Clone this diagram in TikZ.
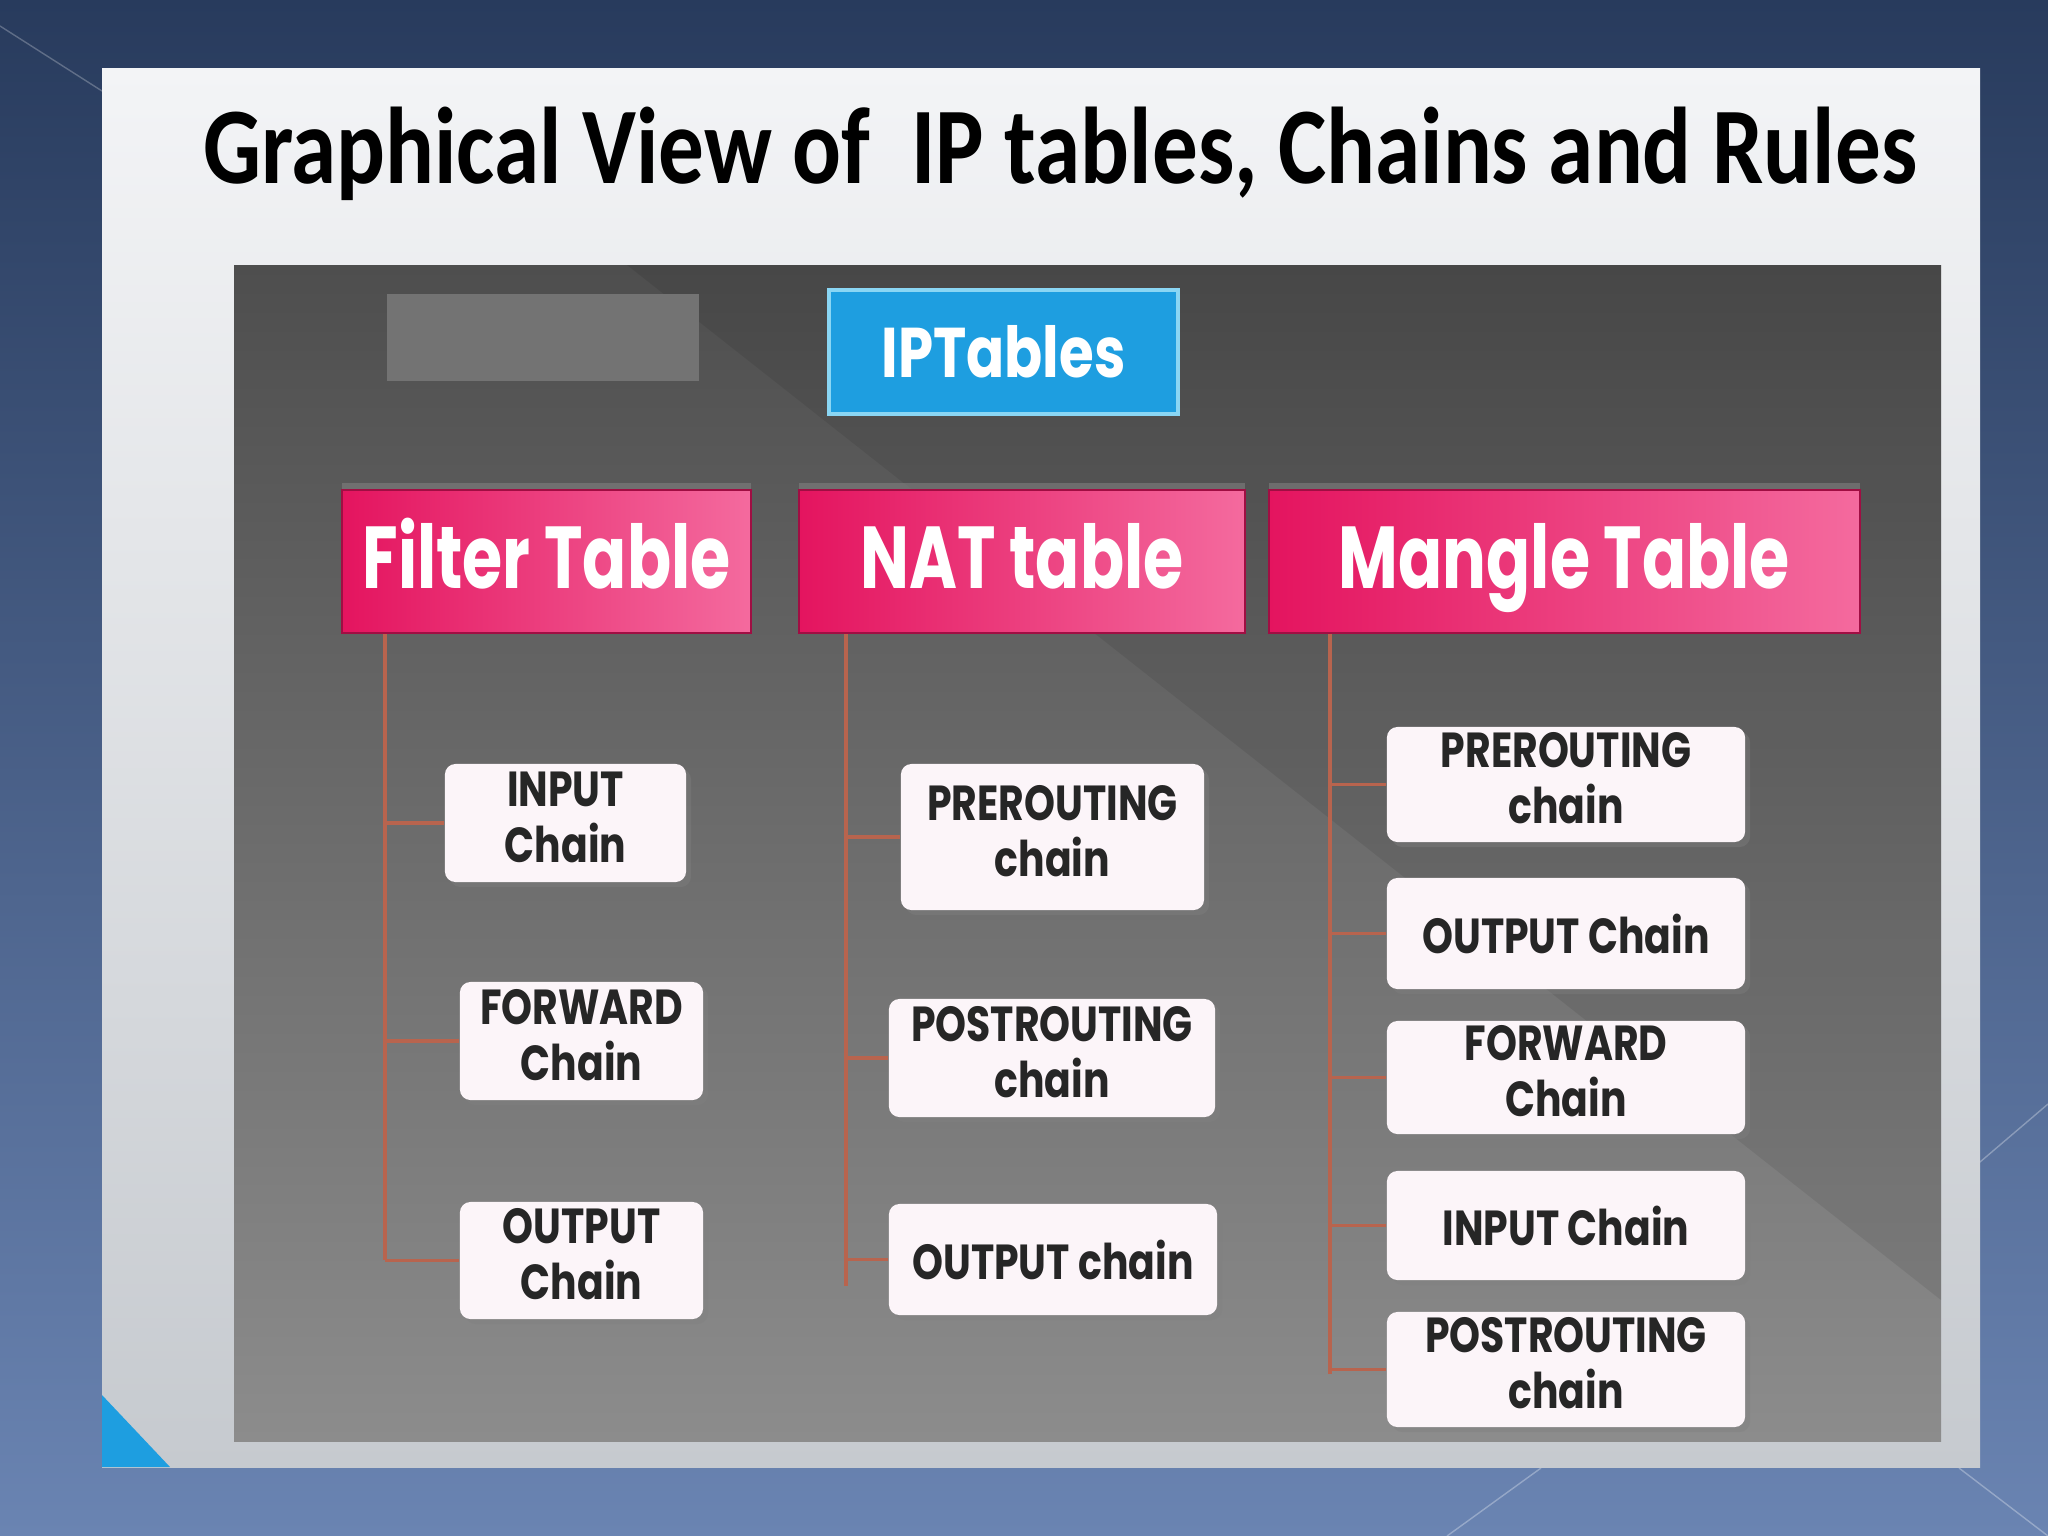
\documentclass[tikz,border=0pt]{standalone}
\usepackage{fontspec}
\usepackage{graphicx}
\setmainfont{Carlito}
\newfontfamily\chainfont{Poppins}
\usetikzlibrary{shadows}

\definecolor{bgtop}{HTML}{283B5D}
\definecolor{bgbottom}{HTML}{6A84B2}
\definecolor{slidetop}{HTML}{F3F4F6}
\definecolor{slidebottom}{HTML}{C6CACF}
\definecolor{paneltop}{HTML}{4E4E4E}
\definecolor{panelbottom}{HTML}{8C8C8C}
\definecolor{ipblue}{HTML}{1E9EE0}
\definecolor{ipedge}{HTML}{8AD6F4}
\definecolor{pinkdark}{HTML}{E4145F}
\definecolor{pinklight}{HTML}{F46A9E}
\definecolor{chainfill}{HTML}{FCF5F9}
\definecolor{stemcol}{HTML}{B8644E}

% squeeze text sideways, as on the slide
\newcommand{\squash}[2][0.74]{\scalebox{#1}[1]{#2}}
\newcommand{\twolines}[2]{\squash[0.8]{\begin{tabular}{@{}c@{}}#1\\#2\end{tabular}}}

\tikzset{
    iptbox/.style={fill=ipblue, draw=ipedge, line width=1.2pt, minimum width=3.49cm, minimum height=1.24cm,
        inner sep=0pt, text=white, font=\chainfont\bfseries\fontsize{20}{22}\selectfont},
    tablehead/.style={left color=pinkdark, right color=pinklight, draw=pinkdark!70!black, line width=0.6pt,
        minimum height=1.43cm, inner sep=0pt, text=white, text height=17pt, text depth=1.7pt,
        drop shadow={opacity=0.6, shadow xshift=0mm, shadow yshift=0.7mm},
        font=\chainfont\bfseries\fontsize{25}{27}\selectfont},
    chainbox/.style={fill=chainfill, rounded corners=3pt, inner sep=0pt, text=black!85,
        drop shadow={opacity=0.4, shadow xshift=0.5mm, shadow yshift=-0.5mm},
        font=\chainfont\bfseries\fontsize{14}{16}\selectfont},
    stem/.style={draw=stemcol, line width=1pt},
}

\begin{document}
\begin{tikzpicture}[x=0.01cm, y=-0.01cm]
    \useasboundingbox (0,0) rectangle (2048,1536);

    % slide background
    \shade[top color=bgtop, bottom color=bgbottom] (0,0) rectangle (2048,1536);
    \draw[white, opacity=0.25] (0,26) -- (102,91);
    \draw[white, opacity=0.3] (1541,1468) -- (1447,1536);
    \draw[white, opacity=0.3] (1959,1468) -- (2048,1536);
    \draw[white, opacity=0.3] (1980,1162) -- (2048,1104);
    \shade[top color=slidetop, bottom color=slidebottom] (102,68) rectangle (1980,1467);
    \fill[ipblue] (102,1395) -- (170,1467) -- (102,1467) -- cycle;

    \node[anchor=base] (title) at (1060,183) {\squash[0.836]{\fontsize{31}{33}\selectfont\bfseries Graphical View of~ IP tables, Chains and Rules}};

    % grey panel
    \shade[top color=paneltop, bottom color=panelbottom] (234,265) rectangle (1941,1441);
    \fill[black, opacity=0.08] (627,265) -- (1941,265) -- (1941,1300) -- cycle;
    \fill[black!55] (387,294) rectangle (699,381);

    \node[iptbox] (ipt) at (1003.5,352) {\squash[0.8]{IPTables}};

    \node[tablehead, minimum width=4.09cm] (filter) at (546.5,561.5) {\squash{Filter Table}};
    \node[tablehead, minimum width=4.46cm] (nat) at (1022,561.5) {\squash{NAT table}};
    \node[tablehead, minimum width=5.91cm] (mangle) at (1564.5,561.5) {\squash{Mangle Table}};

    % filter chains
    \node[chainbox, minimum width=2.41cm, minimum height=1.18cm] (finput) at (565.5,823) {\twolines{INPUT}{Chain}};
    \node[chainbox, minimum width=2.43cm, minimum height=1.18cm] (fforward) at (581.5,1041) {\twolines{FORWARD}{Chain}};
    \node[chainbox, minimum width=2.43cm, minimum height=1.17cm] (foutput) at (581.5,1260.5) {\twolines{OUTPUT}{Chain}};

    % nat chains
    \node[chainbox, minimum width=3.03cm, minimum height=1.46cm] (npre) at (1052.5,837) {\twolines{PREROUTING}{chain}};
    \node[chainbox, minimum width=3.26cm, minimum height=1.18cm] (npost) at (1052,1058) {\twolines{POSTROUTING}{chain}};
    \node[chainbox, minimum width=3.28cm, minimum height=1.11cm] (noutput) at (1053,1259.5) {\squash[0.8]{OUTPUT chain}};

    % mangle chains
    \node[chainbox, minimum width=3.58cm, minimum height=1.15cm] (mpre) at (1566,784.5) {\twolines{PREROUTING}{chain}};
    \node[chainbox, minimum width=3.58cm, minimum height=1.11cm] (moutput) at (1566,933.5) {\squash[0.8]{OUTPUT Chain}};
    \node[chainbox, minimum width=3.58cm, minimum height=1.13cm] (mforward) at (1566,1077.5) {\twolines{FORWARD}{Chain}};
    \node[chainbox, minimum width=3.58cm, minimum height=1.09cm] (minput) at (1566,1225.5) {\squash[0.8]{INPUT Chain}};
    \node[chainbox, minimum width=3.58cm, minimum height=1.15cm] (mpost) at (1566,1369.5) {\twolines{POSTROUTING}{chain}};

    % stems
    \coordinate (fend) at (385,1260);
    \coordinate (nend) at (846,1286);
    \coordinate (mend) at (1330,1374);
    \draw[stem] (filter.south -| fend) -- (fend);
    \draw[stem] (nat.south -| nend) -- (nend);
    \draw[stem] (mangle.south -| mend) -- (mend);
    \foreach \c in {finput,fforward,foutput}
        \draw[stem] (fend |- \c.west) -- (\c.west);
    \foreach \c in {npre,npost,noutput}
        \draw[stem] (nend |- \c.west) -- (\c.west);
    \foreach \c in {mpre,moutput,mforward,minput,mpost}
        \draw[stem] (mend |- \c.west) -- (\c.west);

\end{tikzpicture}
\end{document}
